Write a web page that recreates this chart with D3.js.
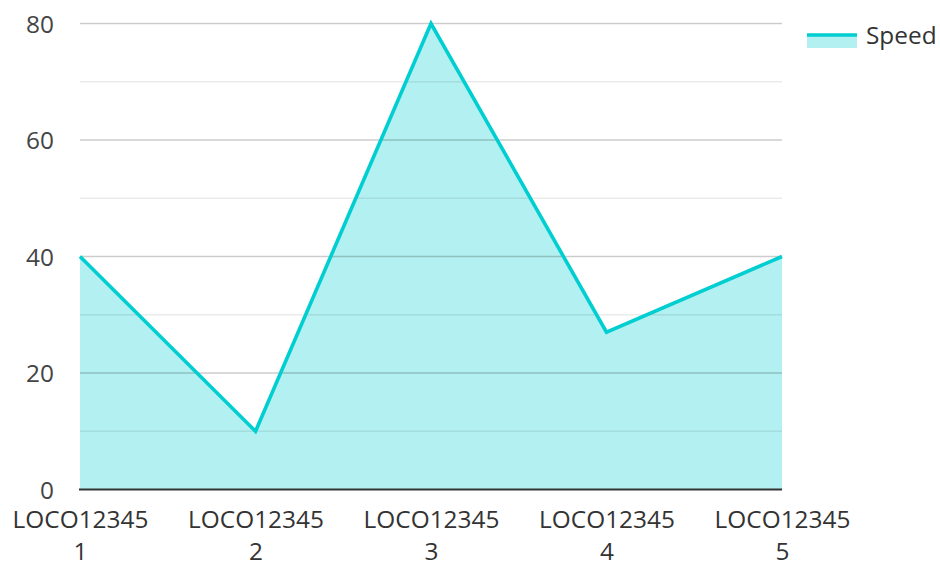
<!DOCTYPE html>
<html>
<head>
<meta charset="utf-8">
<script src="https://cdn.jsdelivr.net/npm/d3@7"></script>
<style>
  html, body { margin: 0; padding: 0; background: #fff; }
  svg { display: block; font-family: "Open Sans", "Noto Sans", sans-serif; }
</style>
</head>
<body>
<svg id="chart" width="940" height="562"></svg>
<script>
const categories = ["LOCO12345 1", "LOCO12345 2", "LOCO12345 3", "LOCO12345 4", "LOCO12345 5"];
const speedValues = [40, 10, 80, 27, 40];
const seriesName = "Speed";
const yTickValues = [0, 20, 40, 60, 80];
const yMinorValues = [10, 30, 50, 70];

const svg = d3.select("#chart");
const margin = { left: 80, right: 158, top: 23.5, bottom: 72.5 };
const W = 940, H = 562;
const FS = 24.4;
const x = d3.scalePoint().domain(categories).range([margin.left, W - margin.right]);
const y = d3.scaleLinear().domain([0, 80]).range([H - margin.bottom, margin.top]);

const lineColor = "#00CED1";

// area
const area = d3.area()
  .x((d, i) => x(categories[i]))
  .y0(y(0))
  .y1(d => y(d));
svg.append("path")
  .datum(speedValues)
  .attr("d", area)
  .attr("fill", lineColor)
  .attr("fill-opacity", 0.3);

// minor grid
svg.append("g").selectAll("line").data(yMinorValues).join("line")
  .attr("x1", margin.left).attr("x2", W - margin.right)
  .attr("y1", d => y(d)).attr("y2", d => y(d))
  .attr("stroke", "rgba(0,0,0,0.08)").attr("stroke-width", 1.5);

// major grid
svg.append("g").selectAll("line").data(yTickValues.filter(v => v !== 0)).join("line")
  .attr("x1", margin.left).attr("x2", W - margin.right)
  .attr("y1", d => y(d)).attr("y2", d => y(d))
  .attr("stroke", "rgba(0,0,0,0.2)").attr("stroke-width", 1.5);

// line
const line = d3.line()
  .x((d, i) => x(categories[i]))
  .y(d => y(d));
svg.append("path")
  .datum(speedValues)
  .attr("d", line)
  .attr("fill", "none")
  .attr("stroke", lineColor)
  .attr("stroke-width", 3.6)
  .attr("stroke-linejoin", "miter");

// x axis baseline
svg.append("line")
  .attr("x1", margin.left - 1).attr("x2", W - margin.right)
  .attr("y1", y(0)).attr("y2", y(0))
  .attr("stroke", "#333").attr("stroke-width", 2);

// y axis labels
const yAxis = d3.axisLeft(y).tickValues(yTickValues).tickSize(0).tickPadding(26);
const gy = svg.append("g").attr("transform", `translate(${margin.left},0)`).call(yAxis);
gy.select(".domain").remove();
gy.selectAll("text")
  .attr("font-size", FS)
  .attr("font-family", "'Open Sans', 'Noto Sans', sans-serif")
  .attr("fill", "#444")
  .attr("dy", "0.35em");

// x axis labels (wrapped)
const xAxis = d3.axisBottom(x).tickSize(0).tickPadding(0);
const gx = svg.append("g").attr("transform", `translate(0,${y(0)})`).call(xAxis);
gx.select(".domain").remove();
gx.selectAll("text").each(function(d) {
  const t = d3.select(this);
  const parts = d.split(" ");
  t.text(null)
    .attr("font-size", FS)
    .attr("font-family", "'Open Sans', 'Noto Sans', sans-serif")
    .attr("fill", "#333")
    .attr("y", 0).attr("dy", null);
  parts.forEach((p, i) => {
    t.append("tspan").attr("x", 0).attr("y", 38 + i * 32).text(p);
  });
});

// legend
const lg = svg.append("g").attr("transform", "translate(807,35)");
lg.append("rect").attr("x", 0).attr("y", 0).attr("width", 50).attr("height", 13)
  .attr("fill", lineColor).attr("fill-opacity", 0.3);
lg.append("line").attr("x1", 0).attr("x2", 50).attr("y1", 0).attr("y2", 0)
  .attr("stroke", lineColor).attr("stroke-width", 3.5);
lg.append("text").attr("x", 59).attr("y", 0).attr("dy", "0.35em")
  .attr("font-size", FS).attr("fill", "#333").text(seriesName);
</script>
</body>
</html>
